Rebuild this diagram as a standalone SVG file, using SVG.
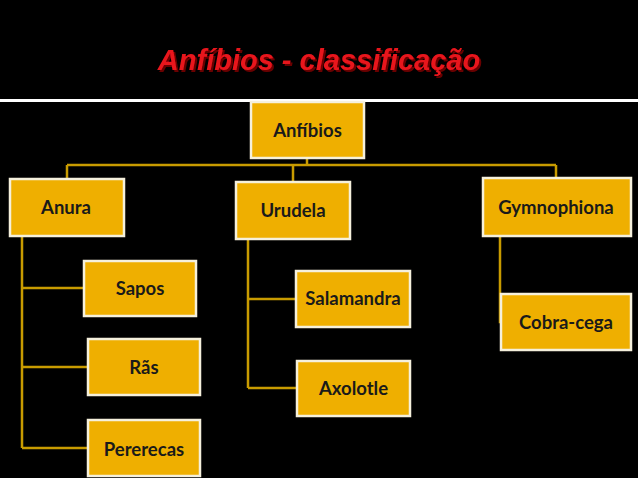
<svg xmlns="http://www.w3.org/2000/svg" width="638" height="478" viewBox="0 0 638 478">
<defs><filter id="sh" x="-5%" y="-20%" width="110%" height="150%"><feDropShadow dx="2" dy="2" stdDeviation="0.5" flood-color="#6a0000"/></filter></defs>
<style>
.b rect{fill:#EFAF00;stroke:#F5F0DC;stroke-width:2.5}
.b text{font-family:Lato,"Open Sans",sans-serif;font-weight:bold;font-size:18.5px;fill:#1a1a1a;text-anchor:middle}
.c path{fill:none;stroke:#C89B00;stroke-width:2.5}
</style>
<rect width="638" height="478" fill="#000"/>
<text x="319" y="70" filter="url(#sh)" font-family="Liberation Sans,Arial,sans-serif" font-size="29" font-weight="bold" font-style="italic" fill="#E8141C" text-anchor="middle">Anfíbios - classificação</text>
<rect x="0" y="99" width="638" height="3" fill="#fff"/>
<g class="c" id="connectors">
<path d="M307 158V165M67 165H556M67 165V179M293 165V182M556 165V178"/>
<path d="M22 236V448M22 288H84M22 367H88M22 448H88"/>
<path d="M248 239V388M248 299H296M248 388H297"/>
<path d="M500 236V322H501"/>
</g>
<g class="b" id="n-anfibios"><rect x="251" y="102" width="113" height="56"/><text x="307.5" y="137">Anfíbios</text></g>
<g class="b" id="n-anura"><rect x="10" y="179" width="114" height="57"/><text x="66" y="214">Anura</text></g>
<g class="b" id="n-urudela"><rect x="236" y="182" width="114" height="57"/><text x="293" y="217">Urudela</text></g>
<g class="b" id="n-gymno"><rect x="483" y="178" width="148" height="58"/><text x="556" y="214">Gymnophiona</text></g>
<g class="b" id="n-sapos"><rect x="84" y="261" width="112" height="55"/><text x="140" y="295">Sapos</text></g>
<g class="b" id="n-salamandra"><rect x="296" y="271" width="114" height="56"/><text x="353" y="305">Salamandra</text></g>
<g class="b" id="n-cobra"><rect x="501" y="294" width="130" height="56"/><text x="566" y="329">Cobra-cega</text></g>
<g class="b" id="n-ras"><rect x="88" y="339" width="112" height="56"/><text x="144" y="374">Rãs</text></g>
<g class="b" id="n-axolotle"><rect x="297" y="361" width="113" height="55"/><text x="353.5" y="395">Axolotle</text></g>
<g class="b" id="n-pererecas"><rect x="88" y="420" width="112" height="56"/><text x="144" y="456">Pererecas</text></g>
</svg>
